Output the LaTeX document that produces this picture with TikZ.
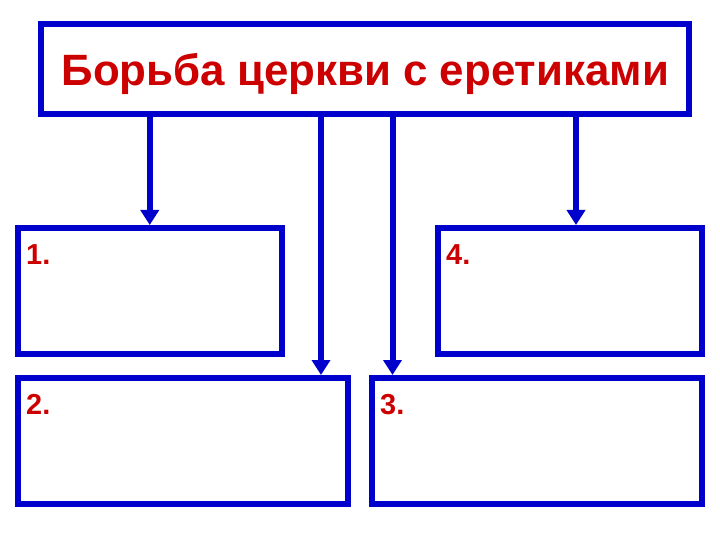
\documentclass[tikz,border=0pt]{standalone}
\usepackage{fontspec}
\setmainfont{Liberation Sans}
\usetikzlibrary{arrows.meta}
\definecolor{boxblue}{HTML}{0000CC}
\definecolor{textred}{HTML}{CC0000}

\begin{document}
\begin{tikzpicture}[
	x=1bp, y=-1bp,
	heading/.style={
		rectangle,
		draw=boxblue,
		line width=6bp,
		align=center,
		text=textred,
		text depth=0pt,
		font=\fontsize{44}{52}\selectfont\bfseries,
		minimum width=647.5bp,
		minimum height=90bp
	},
	answer/.style={
		rectangle,
		draw=boxblue,
		line width=6bp,
		minimum height=125.7bp
	},
	number/.style={
		anchor=base west,
		inner sep=0pt,
		text=textred,
		font=\fontsize{29}{35}\selectfont\bfseries
	},
	link/.style={
		draw=boxblue,
		line width=6bp,
		-{Triangle[length=15bp, width=18bp]}
	},
]

\useasboundingbox (0,0) rectangle (720,540);

\node[heading] (title) at (365.25, 69) {Борьба церкви с еретиками};

\node[answer, minimum width=263.5bp] (box1) at (149.75, 290.85) {};
\node[answer, minimum width=329.5bp] (box2) at (182.75, 440.85) {};
\node[answer, minimum width=330bp] (box3) at (537, 440.85) {};
\node[answer, minimum width=264bp] (box4) at (570, 290.85) {};

\foreach \n in {1, ..., 4}
	\node[number] (num\n) at ([xshift=11bp, yshift=-39.5bp]box\n.north west) {\n.};

\draw[link] (box1.north |- title.south) -- (box1.north);
\draw[link] ([xshift=-29.5bp]box2.north east |- title.south) -- ([xshift=-29.5bp]box2.north east);
\draw[link] ([xshift=23.5bp]box3.north west |- title.south) -- ([xshift=23.5bp]box3.north west);
\draw[link] ([xshift=6bp]box4.north |- title.south) -- ([xshift=6bp]box4.north);

\end{tikzpicture}
\end{document}
